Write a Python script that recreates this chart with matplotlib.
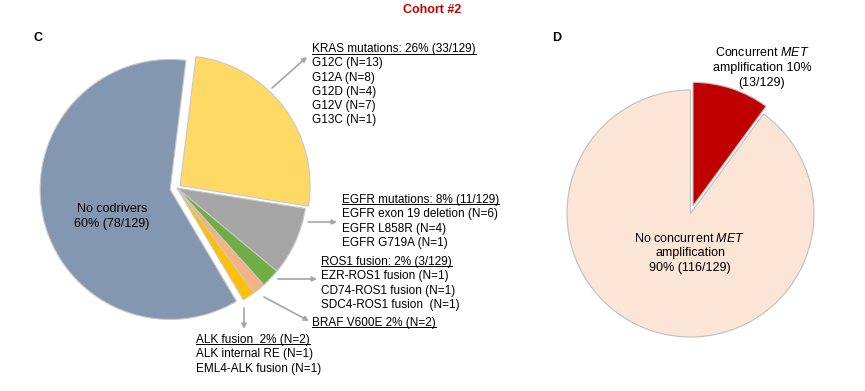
import matplotlib
matplotlib.use("Agg")
import matplotlib.pyplot as plt

plt.rcParams['font.family'] = ['Liberation Sans', 'DejaVu Sans']
plt.rcParams['mathtext.fontset'] = 'custom'
plt.rcParams['mathtext.rm'] = 'Liberation Sans'
plt.rcParams['mathtext.it'] = 'Liberation Sans:italic'

FS = 8.5
W, H = 865, 391

# Panel C : co-drivers
c_names = ['KRAS', 'EGFR', 'ROS1', 'BRAF', 'ALK', 'No codrivers']
c_counts = [33, 11, 3, 2, 2, 78]
c_colors = ['#FFD966', '#A5A5A5', '#70AD47', '#F4B183', '#FFC000', '#8497B0']
c_explode = [0.03, 0.0, 0.0, 0.0, 0.0, 0.054]

# Panel D : MET amplification
d_names = ['Concurrent MET', 'No concurrent MET']
d_counts = [13, 116]
d_colors = ['#C00000', '#FBE5D6']
d_explode = [0.065, 0.0]

fig = plt.figure(figsize=(W / 100, H / 100), dpi=100)


def pie_axes(cx, cy, r):
    # put a pie of radius r (pixels) at centre (cx, cy) counted from top-left
    half = 1.2 * r
    ax = fig.add_axes([(cx - half) / W, (H - cy - half) / H, 2 * half / W, 2 * half / H])
    return ax


def fix_limits(ax):
    # pie() sets its own limits, so put them back afterwards
    ax.set_xlim(-1.2, 1.2)
    ax.set_ylim(-1.2, 1.2)
    ax.set_aspect('equal')
    ax.axis('off')


axc = pie_axes(177, 188, 130)
axc.pie(c_counts, colors=c_colors, explode=c_explode, startangle=83, counterclock=False,
        wedgeprops=dict(edgecolor='#C8C8C8', linewidth=0.8))
fix_limits(axc)

axd = pie_axes(690.5, 213.5, 123.5)
axd.pie(d_counts, colors=d_colors, explode=d_explode, startangle=90, counterclock=False,
        wedgeprops=dict(edgecolor='#BFBFBF', linewidth=0.8))
fix_limits(axd)

# overlay in pixel coordinates for the texts and arrows
ov = fig.add_axes([0, 0, 1, 1], zorder=5)
ov.set_xlim(0, W)
ov.set_ylim(H, 0)
ov.axis('off')
ov.patch.set_alpha(0)

ov.text(432, 10, 'Cohort #2', color='#C00000', fontsize=9, fontweight='bold', ha='center', va='center')
ov.text(33, 38, 'C', fontsize=9, fontweight='bold', va='center')
ov.text(552, 38, 'D', fontsize=9, fontweight='bold', va='center')

underlined = []


def block(x, y, lines, step=14.3):
    t = ov.text(x, y, lines[0], fontsize=FS, va='center')
    underlined.append(t)
    for i, s in enumerate(lines[1:]):
        ov.text(x, y + step * (i + 1), s, fontsize=FS, va='center')


block(312, 49, ['KRAS mutations: 26% (33/129)', 'G12C (N=13)', 'G12A (N=8)',
                'G12D (N=4)', 'G12V (N=7)', 'G13C (N=1)'])
block(342, 200, ['EGFR mutations: 8% (11/129)', 'EGFR exon 19 deletion (N=6)',
                 'EGFR L858R (N=4)', 'EGFR G719A (N=1)'])
block(321, 262, ['ROS1 fusion: 2% (3/129)', 'EZR-ROS1 fusion (N=1)',
                 'CD74-ROS1 fusion (N=1)', 'SDC4-ROS1 fusion  (N=1)'])
block(312, 323, ['BRAF V600E 2% (N=2)'])
block(196, 340, ['ALK fusion  2% (N=2)', 'ALK internal RE (N=1)', 'EML4-ALK fusion (N=1)'])

ov.text(112, 209, 'No codrivers', fontsize=FS + 0.5, ha='center', va='center')
ov.text(112, 224, '60% (78/129)', fontsize=FS + 0.5, ha='center', va='center')

for s, y in zip(['Concurrent $\\mathit{MET}$', 'amplification 10%', '(13/129)'], [52, 68, 83]):
    ov.text(762, y, s, fontsize=FS + 0.5, ha='center', va='center')
for s, y in zip(['No concurrent $\\mathit{MET}$', 'amplification', '90% (116/129)'], [238, 253, 268]):
    ov.text(690, y, s, fontsize=FS + 0.5, ha='center', va='center')

arrow = dict(arrowstyle='-|>', color='#A6A6A6', lw=1.2, mutation_scale=7, shrinkA=0, shrinkB=0)
ov.annotate('', xy=(307, 57), xytext=(272, 88), arrowprops=arrow)
ov.annotate('', xy=(337, 222), xytext=(308, 222), arrowprops=arrow)
ov.annotate('', xy=(317, 279), xytext=(278, 279), arrowprops=arrow)
ov.annotate('', xy=(309, 321), xytext=(264, 297), arrowprops=arrow)
ov.annotate('', xy=(244, 329), xytext=(244, 308), arrowprops=arrow)

# underline the header lines
fig.canvas.draw()
r = fig.canvas.get_renderer()
inv = ov.transData.inverted()
for t in underlined:
    bb = t.get_window_extent(r)
    (x0, y0), (x1, _) = inv.transform([(bb.x0, bb.y0 + 1.5), (bb.x1, bb.y0 + 1.5)])
    ov.plot([x0, x1], [y0, y0], color='black', lw=0.7)

fig.savefig('out.png', dpi=100)
